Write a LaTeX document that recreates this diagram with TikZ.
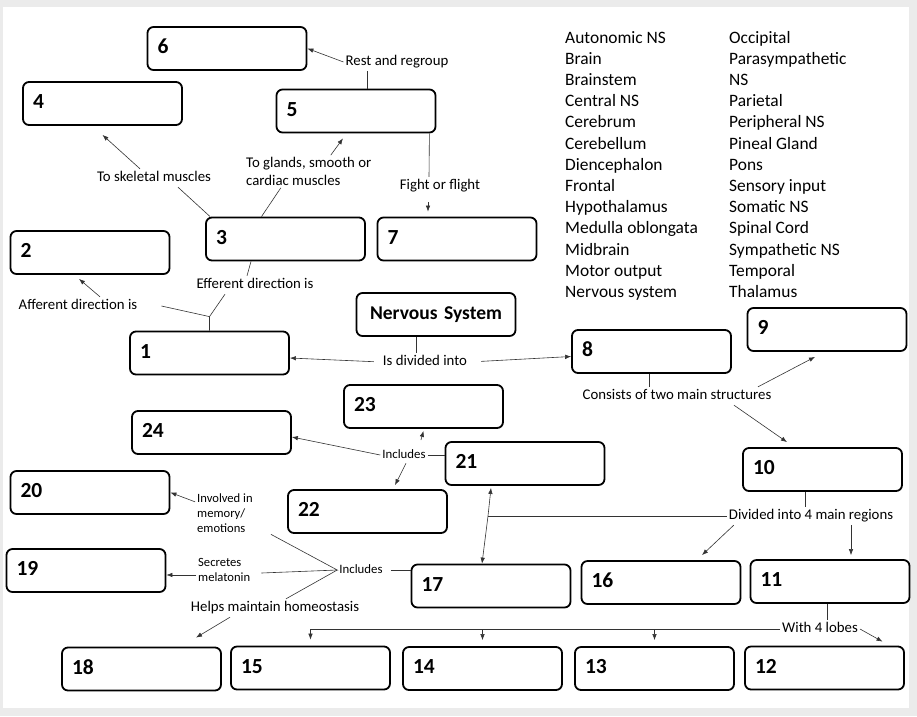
\documentclass[tikz,border=0pt]{standalone}
\usepackage{fontspec}
\setmainfont{Carlito}
\usetikzlibrary{arrows.meta}

\tikzset{
	box/.style={draw, line width=1.8pt, rounded corners=6pt, fill=white, minimum width=159pt, minimum height=43pt,
		text width=139pt, inner xsep=10pt, align=left, font=\fontsize{21.5}{25}\selectfont\bfseries,
		text height=14pt, text depth=4pt},
	lbl/.style={inner sep=2pt, font=\fontsize{14.8}{18}\selectfont, text height=10.8pt, text depth=3.2pt},
	small/.style={inner sep=2pt, font=\fontsize{12.8}{15}\selectfont, text height=9.3pt, text depth=2.8pt},
	note/.style={inner sep=2pt, align=left, font=\fontsize{12.6}{15}\selectfont},
	word/.style={inner sep=0pt, anchor=base west, font=\fontsize{17.4}{21}\selectfont},
	link/.style={draw=black!80, line width=0.6pt},
	arr/.style={link, -{Latex[length=6pt,width=4.5pt]}},
}

\begin{document}
\begin{tikzpicture}[x=1pt,y=-1pt]
		\fill[black!8] (0,0) rectangle (917,716);
		\fill[white] (3,7) rectangle (909,708);
		\useasboundingbox (0,0) rectangle (917,716);
		
		% the numbered boxes
		\node[box] (box6) at (227,48.5) {6};
		\node[box] (box4) at (102.5,103.5) {4};
		\node[box] (box5) at (356,111) {5};
		\node[box] (box3) at (285.5,239) {3};
		\node[box] (box7) at (457,239) {7};
		\node[box] (box2) at (90,252.5) {2};
		\node[box, align=center, font=\fontsize{19.5}{23}\selectfont\bfseries] (ns) at (436,314.5) {Nervous System};
		\node[box] (box9) at (827,329.5) {9};
		\node[box] (box1) at (209.5,353) {1};
		\node[box] (box8) at (651.5,351.5) {8};
		\node[box] (box23) at (423.5,406.5) {23};
		\node[box] (box24) at (211.5,432.5) {24};
		\node[box] (box21) at (525,463.5) {21};
		\node[box] (box10) at (822.5,469.5) {10};
		\node[box] (box20) at (90,492.5) {20};
		\node[box] (box22) at (367.5,511.5) {22};
		\node[box] (box19) at (86,570.5) {19};
		\node[box] (box17) at (491,586) {17};
		\node[box] (box16) at (661,582.5) {16};
		\node[box] (box11) at (830,581.5) {11};
		\node[box] (box18) at (141.5,669) {18};
		\node[box] (box15) at (310.5,668) {15};
		\node[box] (box14) at (482.5,668.5) {14};
		\node[box] (box13) at (654.5,668.5) {13};
		\node[box] (box12) at (824.5,668) {12};
		
		% word bank
		\foreach \Word [count=\i] in {Autonomic NS, Brain, Brainstem, Central NS, Cerebrum, Cerebellum,
			Diencephalon, Frontal, Hypothalamus, Medulla oblongata, Midbrain, Motor output, Nervous system}{
			\node[word] (wa\i) at (565,{43+21.2*(\i-1)}) {\Word};
		}
		\foreach \Word [count=\i] in {Occipital, Parasympathetic, NS, Parietal, Peripheral NS, Pineal Gland,
			Pons, Sensory input, Somatic NS, Spinal Cord, Sympathetic NS, Temporal, Thalamus}{
			\node[word] (wb\i) at (729,{43+21.2*(\i-1)}) {\Word};
		}
		
		% link labels
		\node[lbl] (rest) at (397,62) {Rest and regroup};
		\node[lbl] (skel) at (154,178) {To skeletal muscles};
		\node[note, anchor=west, font=\fontsize{14.8}{18}\selectfont] (glands) at (244,171.5) {To glands, smooth or\\cardiac muscles};
		\node[lbl] (fight) at (440,186) {Fight or flight};
		\node[lbl] (eff) at (255,285) {Efferent direction is};
		\node[lbl] (aff) at (78,306) {Afferent direction is};
		\node[lbl] (split) at (425,362) {Is divided into};
		\node[lbl] (consists) at (677,396) {Consists of two main structures};
		\node[lbl] (regions) at (811,516) {Divided into 4 main regions};
		\node[lbl] (lobes) at (820,629) {With 4 lobes};
		\node[lbl] (homeo) at (275,608) {Helps maintain homeostasis};
		\node[small] (incA) at (404,455) {Includes};
		\node[small] (incB) at (361,570) {Includes};
		\node[note, anchor=west] (memory) at (195,512.7) {Involved in\\memory/\\emotions};
		\node[note, anchor=west] (melatonin) at (196,570) {Secretes\\melatonin};
		
		\coordinate (j1) at ([yshift=14pt]box1.north);
		\coordinate[xshift=-3pt] (j2) at (regions.west -| box17.north);
		
		% top half
		\draw[arr] (rest.west) -- (box6.east);
		\draw[link] ([xshift=-30pt]rest.south) -- ([xshift=11pt]box5.north);
		\draw[arr] ([xshift=-14pt]skel.north) -- ([yshift=-9pt]box4.south);
		\draw[link] ([xshift=24pt]skel.south) -- ([xshift=5pt]box3.north west);
		\draw[arr] ([xshift=22pt]glands.north) -- ([xshift=-13pt,yshift=-5pt]box5.south);
		\draw[link] ([xshift=-28pt]glands.south) -- ([xshift=-24pt]box3.north);
		\draw[link] ([xshift=-7pt]box5.south east) -- ([xshift=-11pt]fight.north);
		\draw[arr, shorten <=7pt] ([xshift=-12pt]fight.south) -- ([xshift=-29pt,yshift=5pt]box7.north);
		\draw[link] ([xshift=-34.5pt]box3.south) -- ([xshift=-8pt]eff.north);
		\draw[link] ([xshift=-30pt]eff.south) -- (j1);
		\draw[link] ([xshift=22pt]aff.east) -- (j1) -- (box1.north);
		\draw[arr] ([xshift=22pt]aff.north) -- ([xshift=-11pt,yshift=-4pt]box2.south);
		
		% middle
		\draw[link] ([xshift=-20pt]ns.south) -- ([xshift=-9pt]split.north);
		\draw[arr, shorten <=7pt] (split.west) -- ([yshift=-5pt]box1.east);
		\draw[arr, shorten <=12pt] (split.east) -- ([yshift=-5pt]box8.west);
		\draw[link] ([xshift=-2.5pt]box8.south) -- ([xshift=-28pt]consists.north);
		\draw[arr] ([xshift=81pt]consists.north) -- ([xshift=-12pt,yshift=-5pt]box9.south);
		\draw[arr] ([xshift=57pt]consists.south) -- ([xshift=-35.5pt,yshift=5pt]box10.north);
		\draw[link] ([xshift=-17.5pt]box10.south) -- ([xshift=-6pt]regions.north);
		\draw[link] (regions.west) -- (j2);
		\draw[arr] (j2) -- ([xshift=-34pt,yshift=-2pt]box21.south);
		\draw[arr] (j2) -- ([xshift=-9pt]box17.north);
		\draw[arr] ([xshift=7pt]regions.south west) -- ([xshift=41pt,yshift=5pt]box16.north);
		\draw[arr] ([xshift=40pt]regions.south) -- ([xshift=21pt,yshift=4pt]box11.north);
		
		% lobes
		\draw[link] ([xshift=-3pt]box11.south) -- ([xshift=7pt]lobes.north);
		\draw[link] (lobes.west) -- (lobes.west -| box15.north);
		\foreach \Box in {box15,box14,box13}{
			\draw[arr] (lobes.west -| \Box.north) -- ([yshift=6pt]\Box.north);
		}
		\draw[arr] (lobes.east) -- ([xshift=58pt,yshift=4pt]box12.north);
		
		% includes
		\draw[link] (incA.east) -- (incA.east -| box21.west);
		\draw[arr] (incA.west) -- ([yshift=-4.5pt]box24.east);
		\draw[arr, shorten <=7pt] ([xshift=15pt]incA.north) -- ([yshift=-2pt]box23.south);
		\draw[arr] ([xshift=2pt]incA.south) -- ([xshift=27.5pt,yshift=4pt]box22.north);
		\draw[link, shorten <=6pt] (incB.east) -- (incB.east -| box17.west);
		\draw[link] ([xshift=16pt]memory.south east) -- (incB.west) -- ([xshift=9pt,yshift=-3pt]melatonin.east);
		\draw[link] (incB.west) -- ([xshift=11pt]homeo.north);
		\draw[arr] (memory.160) -- (box20.east);
		\draw[arr] (melatonin.190) -- (melatonin.190 -| box19.east);
		\draw[arr] ([xshift=-45pt]homeo.south) -- ([xshift=54.5pt,yshift=9pt]box18.north);
\end{tikzpicture}
\end{document}
